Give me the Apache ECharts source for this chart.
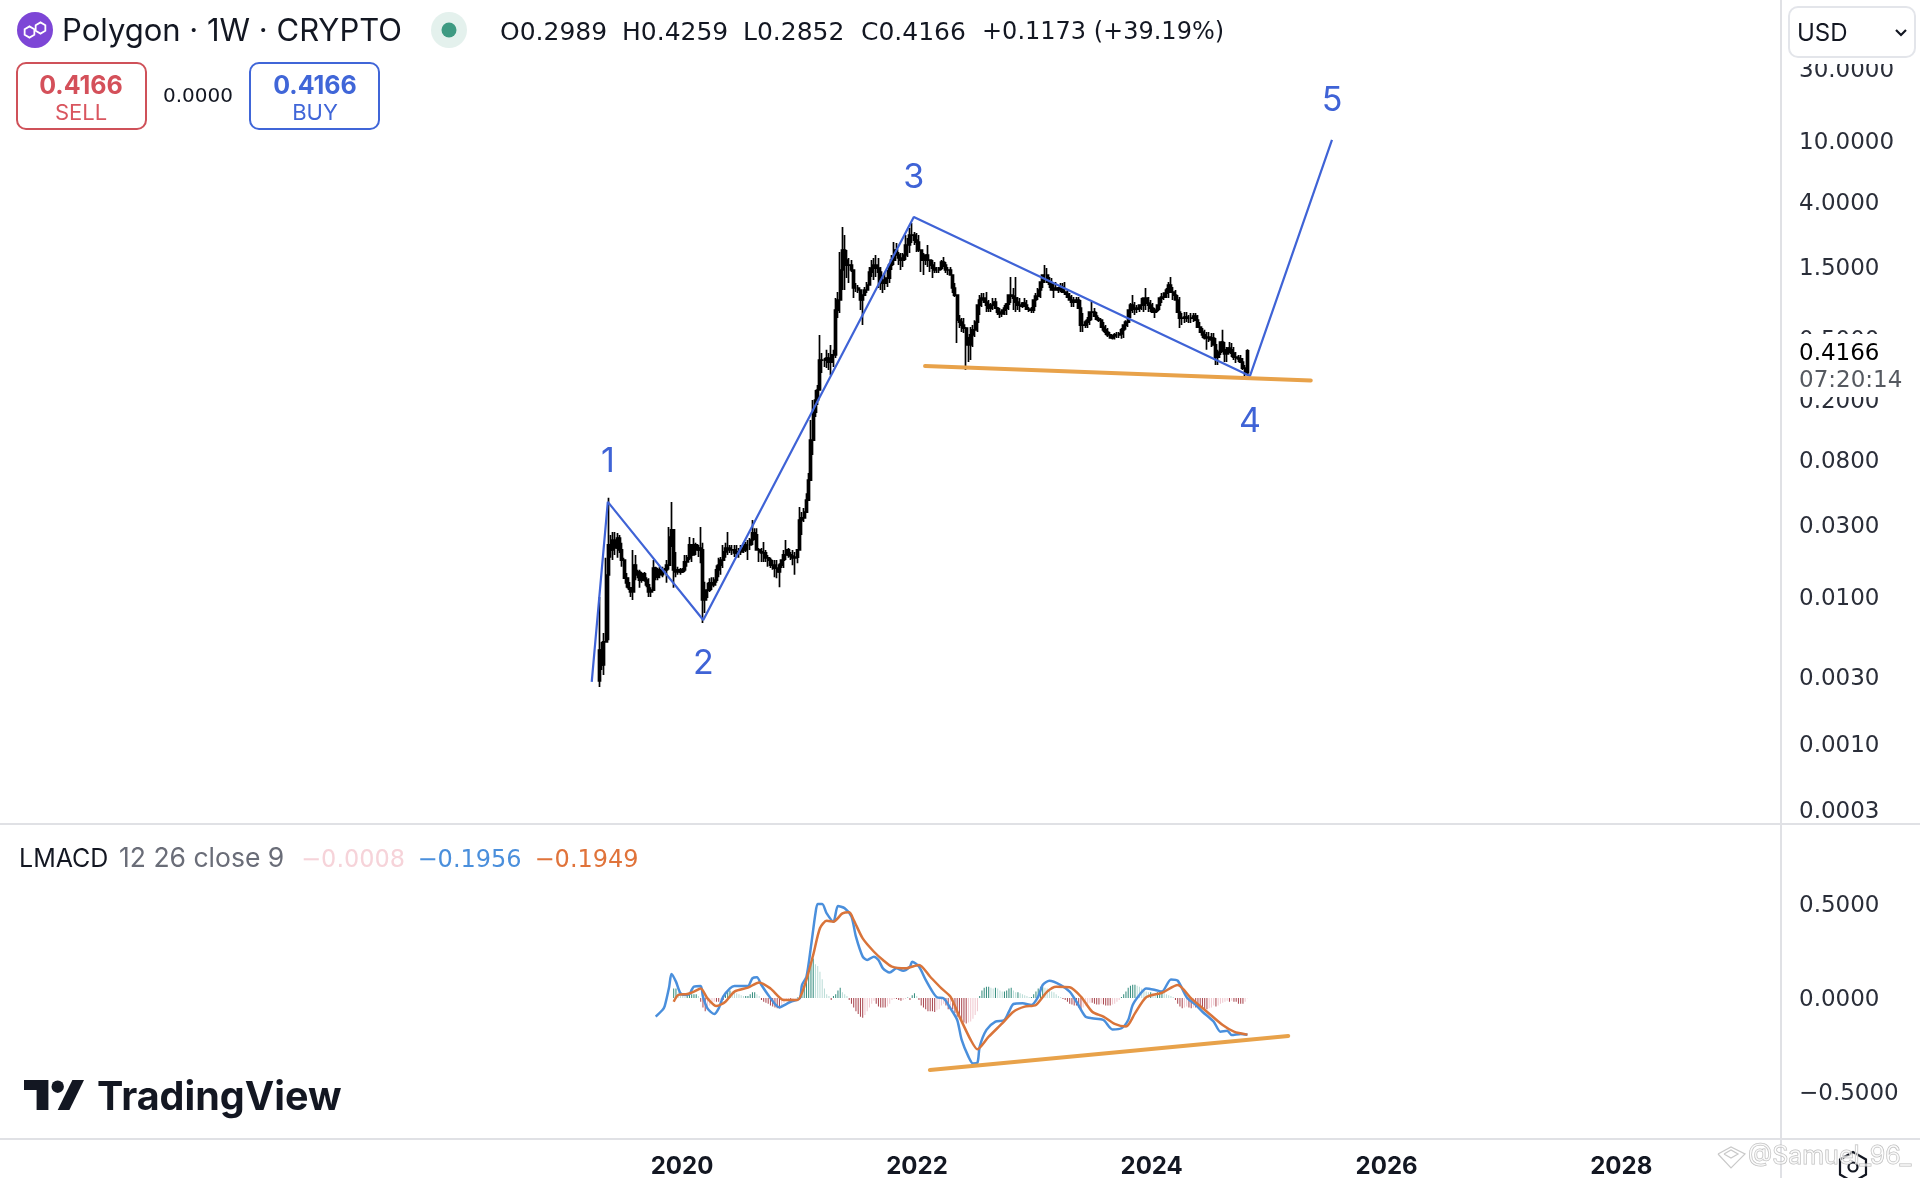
<!DOCTYPE html>
<html>
<head>
<meta charset="utf-8">
<title>Polygon 1W</title>
<script src="https://cdn.jsdelivr.net/npm/echarts@6/dist/echarts.min.js"></script>
<style>
  html, body { margin: 0; padding: 0; background: #fff; }
  #chart { width: 1920px; height: 1178px; }
</style>
</head>
<body>
<div id="chart"></div>
<script>
// weekly candles
var firstWeek = Date.UTC(2019, 3, 19);
var WEEK = 7 * 24 * 3600 * 1000;
var firstOpen = 0.0028;
var candleClose = [
  .00448,.00357,.00506,.01395,.0220,.0204,.0237,.0210,.0244,.0204,
  .0175,.0133,.0124,.0115,.0108,.0162,.0140,.0146,.0129,.0142,
  .0129,.0120,.0108,.0111,.0155,.0135,.0151,.0140,.0151,.0151,
  .0162,.0248,.0276,.0151,.0146,.0151,.0146,.0151,.0170,.0181,
  .0220,.0189,.0220,.0204,.0210,.0204,.00955,.0111,.0111,.0124,
  .0120,.0129,.0151,.0162,.0175,.0198,.0210,.0210,.0204,.0204,
  .0195,.0198,.0198,.0210,.0204,.0220,.0220,.0237,.0264,.0256,
  .0204,.0198,.0195,.0195,.0181,.0175,.0162,.0162,.0155,.0146,
  .0162,.0175,.0189,.0204,.0189,.0186,.0181,.0183,.0204,.0321,
  .0331,.0362,.0434,.0588,.1077,.1647,.1977,.2300,.3620,.3620,
  .3620,.3733,.3513,.3915,.3915,.7720,.8990,1.416,1.917,1.647,
  1.527,1.527,1.416,1.078,1.078,1.046,.8990,.9690,1.046,1.128,
  1.373,1.459,1.527,1.459,1.373,1.217,1.162,1.254,1.254,1.527,
  1.647,1.917,1.777,1.698,1.647,1.777,2.068,2.068,2.405,2.405,
  2.230,2.163,1.917,1.647,1.647,1.777,1.647,1.527,1.459,1.416,
  1.416,1.459,1.597,1.527,1.416,1.416,1.313,1.078,.9690,.6620,
  .6438,.6150,.5880,.4550,.4550,.5300,.5720,.6438,.8330,.8990,
  .9260,.8715,.8330,.7960,.8330,.8715,.7960,.7490,.7270,.7720,
  .7960,.8450,.9690,.9540,.9260,.8715,.8330,.8200,.8585,.8330,
  .7840,.7720,.7720,.8990,.9540,1.046,1.180,1.313,1.313,1.180,
  1.145,1.046,1.078,1.046,1.078,1.094,1.014,.9840,.9401,.8990,
  .8715,.8990,.8990,.7960,.6150,.6150,.6438,.6620,.7490,.7490,
  .7050,.6730,.6620,.5968,.5720,.5533,.5300,.5055,.5215,.5300,
  .5300,.5380,.5720,.6150,.6438,.7720,.8330,.7960,.7840,.7960,
  .8330,.8330,.9260,.8585,.8330,.7960,.7490,.7720,.8330,.9260,
  .9401,.9990,1.046,1.128,1.014,.9690,.8990,.7490,.6840,.6840,
  .6944,.6840,.6840,.6840,.7050,.6620,.5968,.5533,.5300,.5055,
  .5130,.4935,.5055,.4550,.3789,.4087,.4755,.4230,.3970,.4345,
  .4230,.4025,.3789,.3733,.3680,.3513,.3207,.2989,.4166
];
var candleHigh = [
  .0100,.00506,.00580,.0181,.0449,.0256,.0268,.0268,.0264,.0256,
  .0227,.0181,.0144,.0135,.0116,.0204,.0189,.0151,.0151,.0146,
  .0146,.0135,.0133,.0116,.0175,.0158,.0155,.0158,.0158,.0155,
  .0175,.0289,.0422,.0213,.0198,.0158,.0155,.0155,.0189,.0189,
  .0248,.0213,.0244,.0227,.0220,.0289,.0227,.0126,.0124,.0133,
  .0135,.0135,.0162,.0181,.0183,.0220,.0227,.0268,.0220,.0220,
  .0220,.0220,.0210,.0220,.0227,.0230,.0237,.0244,.0321,.0283,
  .0283,.0210,.0210,.0230,.0204,.0189,.0181,.0175,.0175,.0175,
  .0167,.0175,.0204,.0237,.0210,.0198,.0204,.0198,.0204,.0391,
  .0362,.0385,.0482,.0654,.1462,.1977,.2300,.2481,.5300,.4025,
  .3733,.4230,.4025,.4550,.4230,.9260,1.014,1.859,2.714,2.405,
  1.917,1.698,1.647,1.217,1.162,1.128,.9690,.9690,1.094,1.180,
  1.481,1.647,1.698,1.777,1.698,1.481,1.313,1.352,1.416,1.574,
  1.777,2.163,2.132,1.859,1.832,1.832,2.405,2.300,2.676,2.886,
  2.516,2.480,2.405,1.859,1.832,1.723,2.068,1.647,1.647,1.597,
  1.481,1.481,1.647,1.723,1.597,1.481,1.481,1.313,1.162,.9690,
  .7160,.6840,.6840,.5968,.5130,.5968,.6150,.6620,.7720,.9690,
  .9990,.9990,1.014,.8990,.8585,.9260,.9260,.8080,.7960,.7720,
  .8330,.8585,.9401,1.273,1.078,1.273,.9401,.9260,.8715,.9260,
  .8990,.8080,.8080,.8330,.9990,1.078,1.180,1.313,1.527,1.459,
  1.273,1.254,1.162,1.180,1.094,1.162,1.162,1.180,1.046,.9990,
  .9690,.9401,.9401,.9401,.8990,.7380,.6620,.6944,.7380,.8715,
  .7960,.7490,.6944,.6840,.6438,.6150,.5880,.5533,.5300,.5462,
  .5533,.5533,.5880,.6150,.6620,.6840,.8585,.9690,.8715,.8330,
  .8330,.9260,.9260,1.078,.9401,.8990,.8585,.7960,.8080,.8990,
  .9990,.9990,1.078,1.180,1.273,1.094,1.046,.9690,.9401,.7380,
  .7490,.7490,.7160,.7380,.7380,.7380,.7160,.6438,.5880,.5720,
  .5533,.5533,.5462,.5462,.5055,.4230,.4345,.5720,.4755,.4409,
  .4755,.4690,.4409,.4087,.3915,.3915,.3733,.3360,.4259
];
var candleLow = [
  .00256,.00331,.00307,.0052,.0052,.0181,.0175,.0189,.0181,.0195,
  .0158,.0140,.0115,.0111,.0100,.00955,.0129,.0133,.0115,.0124,
  .0126,.0116,.0100,.0100,.0124,.0129,.0129,.0133,.0135,.0144,
  .0124,.0151,.0213,.0115,.0135,.0140,.0140,.0144,.0146,.0158,
  .0175,.0170,.0189,.0189,.0183,.0167,.00675,.00785,.00985,.0108,
  .0111,.0116,.0124,.0135,.0140,.0155,.0181,.0189,.0195,.0189,
  .0183,.0181,.0181,.0189,.0195,.0198,.0175,.0204,.0220,.0237,
  .0210,.0170,.0170,.0170,.0170,.0158,.0155,.0151,.0135,.0133,
  .0116,.0155,.0155,.0175,.0181,.0175,.0162,.0140,.0167,.0213,
  .0256,.0311,.0357,.0470,.0795,.0860,.1527,.1830,.2556,.2974,
  .3256,.3207,.3110,.2880,.3256,.3733,.6840,.7380,1.046,1.046,
  1.254,1.162,1.373,.9260,1.014,.9990,.7720,.6150,.9690,.9990,
  1.128,1.273,1.217,1.273,1.078,1.046,.9990,1.046,1.094,1.162,
  1.416,1.527,1.777,1.527,1.416,1.481,1.647,1.723,1.832,2.132,
  2.068,1.859,1.859,1.373,1.313,1.527,1.481,1.373,1.254,1.352,
  1.352,1.352,1.416,1.481,1.352,1.313,1.313,.9990,.9401,.4690,
  .5880,.5533,.5462,.3110,.3513,.3620,.4409,.5130,.5533,.7160,
  .8080,.8585,.7490,.7490,.7490,.7720,.7960,.7160,.6840,.6944,
  .7160,.7160,.7720,.8585,.7720,.7490,.7720,.7490,.7960,.8080,
  .7720,.7490,.7380,.7380,.8080,.8990,.9260,1.078,1.162,1.180,
  1.078,1.078,.9260,1.046,.9990,1.014,1.014,.9690,.9260,.8990,
  .8080,.8080,.8585,.8330,.5533,.5533,.5880,.5880,.6150,.6620,
  .6944,.6620,.6438,.6340,.5533,.5300,.5130,.5130,.4935,.4935,
  .5055,.5055,.5000,.5055,.5720,.5968,.6840,.7380,.7160,.7380,
  .7490,.7720,.7490,.7720,.7490,.7490,.7380,.6840,.7490,.7720,
  .8585,.8990,.9260,.9260,1.014,.8990,.8990,.7960,.5880,.6150,
  .6340,.6438,.6340,.6340,.6438,.6620,.6150,.5533,.5055,.4935,
  .4230,.4755,.4409,.4755,.3360,.3360,.3915,.4087,.3513,.3513,
  .4025,.3789,.3620,.3460,.3513,.3460,.3110,.2799,.2852
];

// wave count drawn on the price pane
var waveDates = ['2019-03-26', '2019-05-15', '2020-03-07', '2021-12-22', '2024-11-02', '2025-07-15'];
var wavePrices = [0.00276, 0.0422, 0.00706, 3.162, 0.2845, 10.15];
var waveNames = ['', '1', '2', '3', '4', '5'];
var supportDates = ['2022-01-26', '2025-05-10'];
var supportPrices = [0.3308, 0.2657];

// LMACD pane, week index = candle number
var macdWeeks = [25,28,29,31,32,34,36,38,40,41,42,45,46,48,51,53,55,58,60,64,66,68,70,72,75,78,80,83,85,89,90,92,94,96,97,99,101,104,106,109,112,114,117,119,122,124,126,129,132,135,138,139,142,145,148,150,153,156,159,161,164,166,168,169,172,176,180,182,184,188,192,195,197,200,205,209,212,216,219,224,228,232,235,237,240,243,247,250,254,257,261,265,268,273,276,279,281,285,288];
var macdValues = [-.099,-.064,-.043,.060,.128,.087,.025,.016,.021,.043,.060,.064,.007,-.055,-.085,-.055,.007,.051,.064,.064,.064,.105,.110,.069,.016,-.032,-.050,-.032,-.020,-.002,.069,.113,.273,.450,.500,.500,.450,.406,.489,.477,.433,.326,.220,.202,.220,.202,.158,.135,.158,.145,.167,.193,.167,.096,.034,.004,-.002,-.055,-.117,-.223,-.312,-.348,-.344,-.259,-.170,-.126,-.117,-.073,-.032,-.028,-.037,.007,.069,.092,.069,.034,-.020,-.099,-.108,-.117,-.167,-.161,-.117,-.037,.016,.051,.043,.034,.099,.092,.004,-.037,-.073,-.126,-.179,-.174,-.197,-.191,-.1956];
var signalWeeks = [33,35,39,42,45,48,52,56,60,66,71,76,82,88,91,95,98,101,104,108,111,113,117,122,126,130,136,142,147,152,156,160,165,168,173,179,184,189,194,199,203,209,214,219,224,229,234,238,243,250,257,263,270,277,282,288];
var signalValues = [-.020,.016,.021,.034,.051,-.002,-.043,-.020,.034,.055,.083,.051,-.011,-.011,.060,.229,.371,.411,.406,.450,.456,.415,.317,.246,.202,.167,.158,.176,.113,.051,.007,-.099,-.223,-.273,-.206,-.135,-.073,-.046,-.037,.034,.060,.057,.007,-.073,-.099,-.138,-.152,-.082,.004,.028,.069,-.002,-.073,-.144,-.179,-.1949];
var histStartWeek = 33;
var histValues = [
  .05,.05,.03,.02,.01,.005,.01,
  .02,.02,.02,.02,.01,-.02,-.05,-.07,-.06,-.04,
  -.03,-.02,-.02,-.02,-.01,-.01,.03,.04,.04,.035,
  .03,.025,.02,.015,.01,.01,.01,.02,.03,.03,
  .02,.01,-.01,-.02,-.025,-.03,-.04,-.045,-.05,-.055,
  -.055,-.04,-.025,-.015,-.01,-.01,-.005,-.003,.002,.01,
  .04,.07,.10,.15,.19,.21,.18,.17,.14,.10,
  .05,.02,.01,-.01,.01,.02,.04,.055,.03,.02,
  .01,-.01,-.03,-.05,-.07,-.085,-.10,-.105,-.09,-.07,
  -.05,-.03,-.015,-.03,-.045,-.05,-.05,-.05,-.045,-.03,
  -.01,-.005,-.005,-.01,-.015,-.01,-.005,.003,-.01,.015,
  .025,.01,-.01,-.04,-.05,-.06,-.07,-.07,-.07,-.075,
  -.065,-.06,-.04,-.03,-.04,-.06,-.04,-.06,-.08,-.10,
  -.11,-.12,-.13,-.135,-.13,-.125,-.11,-.09,-.07,.01,
  .04,.055,.06,.06,.055,.05,.055,.05,.04,.035,
  .035,.04,.05,.055,.04,.03,.03,.025,.02,.015,
  .01,.005,.005,.02,.035,.05,.06,.06,.055,.05,
  .04,.035,.03,.02,.01,.005,-.005,-.01,-.02,-.03,
  -.035,-.04,-.04,-.05,-.06,-.05,-.04,-.03,-.025,-.025,
  -.03,-.035,-.035,-.03,-.035,-.04,-.04,-.04,-.035,-.03,
  -.02,-.01,.005,.02,.035,.055,.065,.07,.07,.065,
  .06,.05,.04,.035,.03,.03,.025,.02,.03,.04,
  .04,.03,.02,.015,.01,.005,-.01,-.03,-.045,-.055,
  -.05,-.045,-.05,-.055,-.05,-.05,-.05,-.05,-.055,-.06,
  -.06,-.055,-.05,-.04,-.045,-.04,-.03,-.025,-.02,-.015,
  -.02,-.015,-.02,-.02,-.03,-.03,-.03,-.02,-.002
];
var macdTrendDates = ['2022-02-10', '2025-03-01'];
var macdTrendValues = [-.383, -.202];

// axis ticks; the two lowest sit where the platform rounds them
var priceTicks = [30, 10, 4, 1.5, 0.5, 0.2, 0.08, 0.03, 0.01, 0.003, 0.00108, 0.0004];
var priceTickLabels = ['30.0000', '10.0000', '4.0000', '1.5000', '0.5000', '0.2000', '0.0800', '0.0300', '0.0100', '0.0030', '0.0010', '0.0003'];
var macdTicks = [0.5, 0, -0.5];
var macdTickLabels = ['0.5000', '0.0000', '\u22120.5000'];
var yearTicks = [2020, 2022, 2024, 2026, 2028];

var FONT = 'Inter, "Noto Sans", sans-serif';
var NUM_FONT = '"DejaVu Sans", sans-serif';
var INK = '#131722';
var BLUE = '#3f63d6';
var ORANGE = '#e8a24a';
var LINE = '#e0e1e5';
var X_MIN = Date.UTC(2014, 2, 11);
var X_MAX = Date.UTC(2029, 4, 12);

function weekTime(i) { return firstWeek + i * WEEK; }

var candles = candleClose.map(function (c, i) {
  var open = i === 0 ? firstOpen : candleClose[i - 1];
  return [weekTime(i), open, c, candleLow[i], candleHigh[i]];
});
var histData = histValues.map(function (v, i) {
  var prev = i === 0 ? 0 : histValues[i - 1];
  var color;
  if (v >= 0) color = v >= prev ? '#2f8a7b' : '#b9dcd6';
  else color = v <= prev ? '#a8434c' : '#f0c8cf';
  return { value: [weekTime(histStartWeek + i), v], itemStyle: { color: color } };
});
function pairs(weeks, values) {
  return weeks.map(function (w, i) { return [weekTime(w), values[i]]; });
}
function dated(dates, values) {
  return dates.map(function (d, i) { return [Date.parse(d), values[i]]; });
}
var labelPlacement = { '1': ['top', 23], '2': ['bottom', 27], '3': ['top', 22], '4': ['bottom', 29], '5': ['top', 22] };
var waveData = waveDates.map(function (d, i) {
  var name = waveNames[i];
  if (!name) return [Date.parse(d), wavePrices[i]];
  return {
    value: [Date.parse(d), wavePrices[i]],
    label: { show: true, formatter: name, position: labelPlacement[name][0], distance: labelPlacement[name][1] }
  };
});

function tx(text, x, y, size, color, extra) {
  var st = {
    text: text, x: x, y: y,
    font: (extra && extra.weight ? extra.weight + ' ' : '') + size + 'px ' + ((extra && extra.family) || FONT),
    fill: color, textVerticalAlign: 'middle', textAlign: (extra && extra.align) || 'left'
  };
  if (extra && extra.stroke) { st.stroke = extra.stroke; st.lineWidth = 1; }
  return { type: 'text', z: 110, silent: true, style: st };
}
function box(x, y, w, h, r, stroke, lw) {
  return { type: 'rect', z: 105, silent: true, shape: { x: x, y: y, width: w, height: h, r: r }, style: { fill: '#fff', stroke: stroke, lineWidth: lw } };
}
function hLine(x1, y1, x2, y2) {
  return { type: 'line', z: 90, silent: true, shape: { x1: x1, y1: y1, x2: x2, y2: y2 }, style: { stroke: LINE, lineWidth: 2 } };
}
function poly(points, fill, stroke, lw, closed) {
  return {
    type: closed === false ? 'polyline' : 'polygon', z: 110, silent: true, shape: { points: points },
    style: { fill: fill, stroke: stroke, lineWidth: lw || 0 }
  };
}
function hex(cx, cy, r) {
  var pts = [];
  for (var a = 0; a < 6; a++) {
    var t = Math.PI / 6 + a * Math.PI / 3;
    pts.push([cx + r * Math.cos(t), cy + r * Math.sin(t)]);
  }
  return pts;
}

var graphics = [
  hLine(0, 824, 1920, 824),
  hLine(0, 1139, 1920, 1139),
  hLine(1781, 0, 1781, 1178),

  // header
  { type: 'circle', z: 105, silent: true, shape: { cx: 35, cy: 30, r: 18 }, style: { fill: '#7d46d6' } },
  poly(hex(29.5, 32, 5.6), 'none', '#fff', 1.8),
  poly(hex(40.5, 28, 5.6), 'none', '#fff', 1.8),
  tx('Polygon \u00b7 1W \u00b7 CRYPTO', 62, 32, 31, INK),
  { type: 'circle', z: 105, silent: true, shape: { cx: 449, cy: 30, r: 18 }, style: { fill: '#e4f1ed' } },
  { type: 'circle', z: 106, silent: true, shape: { cx: 449, cy: 30, r: 7.5 }, style: { fill: '#3e9a82' } },
  tx('O0.2989', 500, 33, 25, INK, { family: NUM_FONT }),
  tx('H0.4259', 622, 33, 25, INK, { family: NUM_FONT }),
  tx('L0.2852', 743, 33, 25, INK, { family: NUM_FONT }),
  tx('C0.4166', 861, 33, 25, INK, { family: NUM_FONT }),
  tx('+0.1173 (+39.19%)', 982, 33, 24, INK, { family: NUM_FONT }),

  box(17, 63, 129, 66, 9, '#cf5159', 2),
  tx('0.4166', 81, 86, 25, '#d4505a', { align: 'center', weight: 700 }),
  tx('SELL', 81, 113, 22, '#d9565f', { align: 'center' }),
  tx('0.0000', 198, 97, 20, INK, { align: 'center', family: NUM_FONT }),
  box(250, 63, 129, 66, 9, '#4066d8', 2),
  tx('0.4166', 315, 86, 25, '#4066d8', { align: 'center', weight: 700 }),
  tx('BUY', 315, 113, 22, '#4066d8', { align: 'center' }),

  // currency select and last price tag hide parts of the tick labels
  { type: 'rect', z: 104, silent: true, shape: { x: 1783, y: 0, width: 137, height: 64 }, style: { fill: '#fff' } },
  box(1789, 7, 126, 50, 9, '#e3e5ea', 2),
  tx('USD', 1797, 34, 24, INK),
  poly([[1896, 30], [1901, 35], [1906, 30]], 'none', INK, 2.2, false),
  { type: 'rect', z: 105, silent: true, shape: { x: 1790, y: 334, width: 130, height: 63 }, style: { fill: '#fff' } },
  tx('0.4166', 1799, 354.5, 23, '#000', { family: NUM_FONT }),
  tx('07:20:14', 1799, 381.5, 23, '#555960', { family: NUM_FONT }),

  // indicator legend
  tx('LMACD', 19, 859.5, 25, INK),
  tx('12 26 close 9', 119, 859.5, 26.5, '#6a6d78'),
  tx('\u22120.0008', 301, 860.5, 24, '#f6d3d9', { family: NUM_FONT }),
  tx('\u22120.1956', 417.5, 860.5, 24, '#4a8fdc', { family: NUM_FONT }),
  tx('\u22120.1949', 534.5, 860.5, 24, '#e0733a', { family: NUM_FONT }),

  // logo
  poly([[24, 1080], [48.4, 1080], [48.4, 1110], [36.6, 1110], [36.6, 1090], [24, 1090]], INK),
  { type: 'circle', z: 110, silent: true, shape: { cx: 57.7, cy: 1086.7, r: 6.2 }, style: { fill: INK } },
  poly([[84, 1080], [69.4, 1110], [57.7, 1110], [72.4, 1080]], INK),
  tx('TradingView', 97, 1098, 39.5, INK, { weight: 700 }),

  // settings badge and repost watermark
  poly(hex(1853, 1167, 15), 'none', INK, 2.2),
  { type: 'circle', z: 110, silent: true, shape: { cx: 1853, cy: 1167, r: 4.5 }, style: { fill: 'none', stroke: INK, lineWidth: 2.2 } },
  poly([[1718, 1154], [1731, 1147], [1745, 1154], [1731, 1168], [1718, 1154]], 'none', '#c9c9c9', 1.2, false),
  poly([[1724, 1154], [1731, 1150], [1738, 1154], [1731, 1158], [1724, 1154]], 'none', '#c9c9c9', 1.2, false),
  tx('@Samuel_96_', 1748, 1156, 25, 'rgba(255,255,255,0.55)', { stroke: '#bbbbbb' })
];

var chart = echarts.init(document.getElementById('chart'), null, { renderer: 'canvas' });
chart.setOption({
  animation: false,
  backgroundColor: '#fff',
  textStyle: { fontFamily: FONT },
  grid: [
    { left: 0, width: 1781, top: 0, height: 824, outerBoundsMode: 'none' },
    { left: 0, width: 1781, top: 824, height: 315, outerBoundsMode: 'none' }
  ],
  xAxis: [
    {
      type: 'value', gridIndex: 0, min: X_MIN, max: X_MAX,
      axisLine: { show: false }, axisTick: { show: false }, axisLabel: { show: false }, splitLine: { show: false }
    },
    {
      type: 'value', gridIndex: 1, min: X_MIN, max: X_MAX,
      axisLine: { show: false }, axisTick: { show: false }, splitLine: { show: false },
      axisLabel: {
        show: true, margin: 16, color: INK, fontSize: 24, fontWeight: 700, fontFamily: FONT,
        customValues: yearTicks.map(function (y) { return Date.UTC(y, 0, 1); }),
        formatter: function (v) { return String(new Date(v).getUTCFullYear()); }
      }
    }
  ],
  yAxis: [
    {
      type: 'log', logBase: 10, gridIndex: 0, position: 'right', min: 0.000321, max: 84.6,
      axisLine: { show: false }, axisTick: { show: false }, splitLine: { show: false },
      axisLabel: {
        margin: 18, color: '#2a2e39', fontSize: 23, fontFamily: NUM_FONT, align: 'left', verticalAlign: 'top', lineHeight: 5,
        customValues: priceTicks,
        formatter: function (v) {
          var best = 0;
          priceTicks.forEach(function (t, i) {
            if (Math.abs(Math.log(t) - Math.log(v)) < Math.abs(Math.log(priceTicks[best]) - Math.log(v))) best = i;
          });
          return priceTickLabels[best];
        }
      }
    },
    {
      type: 'value', gridIndex: 1, position: 'right', min: -0.75, max: 0.9255,
      axisLine: { show: false }, axisTick: { show: false }, splitLine: { show: false },
      axisLabel: {
        margin: 18, color: '#2a2e39', fontSize: 23, fontFamily: NUM_FONT, align: 'left', verticalAlign: 'top', lineHeight: 5,
        customValues: macdTicks,
        formatter: function (v) { return macdTickLabels[macdTicks.indexOf(v)]; }
      }
    }
  ],
  series: [
    {
      name: 'Polygon', type: 'candlestick', xAxisIndex: 0, yAxisIndex: 0, data: candles,
      encode: { x: 0, y: [1, 2, 3, 4] }, barWidth: 2.5, z: 2,
      itemStyle: { color: '#000', color0: '#000', borderColor: '#000', borderColor0: '#000', borderWidth: 1.7 }
    },
    {
      name: 'Waves', type: 'line', xAxisIndex: 0, yAxisIndex: 0, data: waveData, z: 3,
      symbol: 'circle', symbolSize: 0, showSymbol: true, showAllSymbol: true,
      lineStyle: { color: BLUE, width: 2.2 }, itemStyle: { color: BLUE },
      label: { show: false, color: BLUE, fontSize: 34, fontFamily: FONT }
    },
    {
      name: 'Support', type: 'line', xAxisIndex: 0, yAxisIndex: 0, data: dated(supportDates, supportPrices), z: 4,
      symbol: 'none', lineStyle: { color: ORANGE, width: 4, cap: 'round' }
    },
    {
      name: 'Histogram', type: 'bar', xAxisIndex: 1, yAxisIndex: 1, data: histData, barWidth: 1, z: 2
    },
    {
      name: 'MACD', type: 'line', xAxisIndex: 1, yAxisIndex: 1, data: pairs(macdWeeks, macdValues), z: 3,
      symbol: 'none', smooth: 0.25, lineStyle: { color: '#4a8fdc', width: 2.5 }
    },
    {
      name: 'Signal', type: 'line', xAxisIndex: 1, yAxisIndex: 1, data: pairs(signalWeeks, signalValues), z: 4,
      symbol: 'none', smooth: 0.25, lineStyle: { color: '#d9743a', width: 2.5 }
    },
    {
      name: 'MACD support', type: 'line', xAxisIndex: 1, yAxisIndex: 1, data: dated(macdTrendDates, macdTrendValues), z: 5,
      symbol: 'none', lineStyle: { color: ORANGE, width: 4, cap: 'round' }
    }
  ],
  graphic: { elements: graphics }
});
</script>
</body>
</html>
